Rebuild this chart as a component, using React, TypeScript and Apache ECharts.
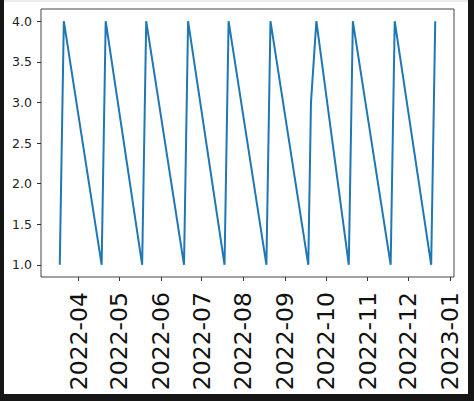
import { useEffect, useRef } from 'react';
import * as echarts from 'echarts';

// sawtooth samples: 1 on the 18th, 4 a few days later
const pointDates = [
  '2022-03-18', '2022-03-21',
  '2022-04-18', '2022-04-21',
  '2022-05-18', '2022-05-21',
  '2022-06-18', '2022-06-21',
  '2022-07-18', '2022-07-21',
  '2022-08-18', '2022-08-21',
  '2022-09-18', '2022-09-20', '2022-09-24',
  '2022-10-18', '2022-10-21',
  '2022-11-18', '2022-11-21',
  '2022-12-18', '2022-12-21',
];
const pointValues = [
  1, 4,
  1, 4,
  1, 4,
  1, 4,
  1, 4,
  1, 4,
  1, 3, 4,
  1, 4,
  1, 4,
  1, 4,
];
const monthTicks = [
  '2022-04', '2022-05', '2022-06', '2022-07', '2022-08',
  '2022-09', '2022-10', '2022-11', '2022-12', '2023-01',
];
const yTicks = [1.0, 1.5, 2.0, 2.5, 3.0, 3.5, 4.0];

const toTime = (s: string) =>
  Date.parse((s.length === 7 ? s + '-01' : s) + 'T00:00:00Z');

const Chart = () => {
  const el = useRef<HTMLDivElement>(null);

  useEffect(() => {
    if (!el.current) return;
    const chart = echarts.init(el.current, undefined, { renderer: 'svg' });

    const times = pointDates.map(toTime);
    const tickTimes = monthTicks.map(toTime);
    // matplotlib-like 5% margins
    const t0 = Math.min(...times);
    const t1 = Math.max(...times);
    const pad = (t1 - t0) * 0.05;

    const tickStyle = { color: '#333', width: 1 };
    const font = 'DejaVu Sans';

    chart.setOption({
      animation: false,
      grid: {
        left: 41,
        top: 9,
        width: 413,
        height: 268,
        show: true,
        borderColor: '#444',
        borderWidth: 1,
        backgroundColor: 'transparent',
      },
      xAxis: {
        // timestamps on a value axis so month ticks can be placed exactly
        type: 'value',
        min: t0 - pad,
        max: t1 + pad,
        axisLine: { show: false },
        splitLine: { show: false },
        axisTick: { show: true, length: 4, lineStyle: tickStyle, customValues: tickTimes },
        axisLabel: {
          customValues: tickTimes,
          rotate: 90,
          margin: 15,
          fontSize: 23.5,
          fontFamily: font,
          color: '#111',
          padding: [0, 0, 6, 0],
          formatter: (v: number) => monthTicks[tickTimes.indexOf(v)] ?? '',
        },
      },
      yAxis: {
        type: 'value',
        min: 0.85,
        max: 4.15,
        axisLine: { show: false },
        splitLine: { show: false },
        axisTick: { show: true, length: 4, lineStyle: tickStyle, customValues: yTicks },
        axisLabel: {
          customValues: yTicks,
          margin: 9,
          fontSize: 12.5,
          fontFamily: font,
          color: '#222',
          formatter: (v: number) => v.toFixed(1),
        },
      },
      series: [
        {
          type: 'line',
          data: times.map((t, i) => [t, pointValues[i]]),
          showSymbol: false,
          silent: true,
          lineStyle: { color: '#1f77b4', width: 2 },
          itemStyle: { color: '#1f77b4' },
        },
      ],
    });

    return () => {
      chart.dispose();
    };
  }, []);

  return (
    <div
      ref={el}
      style={{ position: 'absolute', left: 0, top: 0, width: 474, height: 401 }}
    />
  );
};

export default function App() {
  return (
    <div style={{ position: 'fixed', inset: 0, background: '#161616', overflow: 'hidden' }}>
      {/* white figure area with a thin grey strip on top */}
      <div
        style={{
          position: 'absolute',
          left: 4,
          top: 0,
          width: 464,
          height: 394,
          background: '#fff',
          borderTop: '2px solid #ebebeb',
          boxSizing: 'border-box',
        }}
      />
      <Chart />
    </div>
  );
}
